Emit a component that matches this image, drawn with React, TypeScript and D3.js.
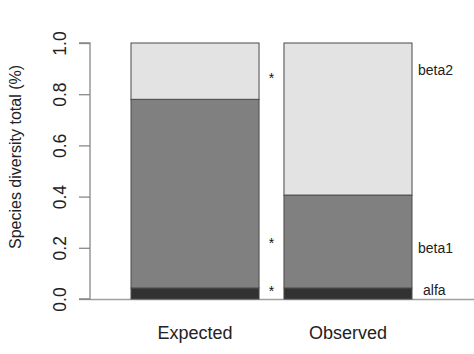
import { useEffect, useRef } from "react";
import * as d3 from "d3";

const groups = ["Expected", "Observed"];
const components = ["alfa", "beta1", "beta2"];
const alfa = [0.043, 0.043];
const beta1 = [0.737, 0.363];
const beta2 = [0.22, 0.594];
const yTicks = [0, 0.2, 0.4, 0.6, 0.8, 1.0];
// significance markers between the bars
const starValues = [0.043, 0.23, 0.875];
const labelValues = [0.035, 0.2, 0.895];

const FONT = "Liberation Sans, Arial, sans-serif";

const App = () => {
  const ref = useRef<SVGSVGElement | null>(null);

  useEffect(() => {
    if (!ref.current) return;
    const width = 474;
    const height = 354;
    const margin = { top: 43, bottom: 55, left: 90 };

    const svg = d3.select(ref.current);
    svg.selectAll("*").remove();

    const y = d3
      .scaleLinear()
      .domain([0, 1])
      .range([height - margin.bottom, margin.top]);

    const x = d3
      .scaleBand()
      .domain(groups)
      .range([131, 412])
      .paddingInner(0.163)
      .paddingOuter(0);

    const rows = groups.map((g, i) => ({
      group: g,
      alfa: alfa[i],
      beta1: beta1[i],
      beta2: beta2[i],
    }));
    const stack = d3.stack<any>().keys(components)(rows);
    const colors: Record<string, string> = {
      alfa: "#323232",
      beta1: "#808080",
      beta2: "#e3e3e3",
    };

    // bottom line
    svg
      .append("line")
      .attr("x1", margin.left)
      .attr("x2", width)
      .attr("y1", y(0) + 0.5)
      .attr("y2", y(0) + 0.5)
      .attr("stroke", "#a0a0a0")
      .attr("stroke-width", 1.5);

    stack.forEach((layer) => {
      svg
        .append("g")
        .selectAll("rect")
        .data(layer)
        .join("rect")
        .attr("x", (d) => x(d.data.group)!)
        .attr("y", (d) => y(d[1]))
        .attr("width", x.bandwidth())
        .attr("height", (d) => y(d[0]) - y(d[1]))
        .attr("fill", colors[layer.key])
        .attr("stroke", "#4a4a4a")
        .attr("stroke-width", 1);
    });

    // y axis
    const yAxis = svg
      .append("g")
      .attr("transform", `translate(${margin.left},0)`)
      .call(
        d3
          .axisLeft(y)
          .tickValues(yTicks)
          .tickSize(11)
          .tickFormat(d3.format(".1f"))
      );
    yAxis.selectAll("path, line").attr("stroke", "#888").attr("stroke-width", 1.3);
    yAxis.select(".domain").attr("d", `M-11,${y(0)}H0V${y(1)}H-11`);
    yAxis
      .selectAll("text")
      .attr("fill", "#222")
      .attr("font-size", 17.5)
      .attr("font-family", FONT)
      .attr("text-anchor", "middle")
      .attr("dy", null)
      .attr("x", null)
      .attr("transform", (d: any) => `translate(-24,0) rotate(-90)`)
      .attr("y", 0);

    svg
      .append("text")
      .attr("transform", `translate(21,157) rotate(-90)`)
      .attr("text-anchor", "middle")
      .attr("font-size", 16)
      .attr("font-family", FONT)
      .attr("fill", "#222")
      .text("Species diversity total (%)");

    // x labels
    svg
      .selectAll(".xl")
      .data(groups)
      .join("text")
      .attr("class", "xl")
      .attr("x", (d) => x(d)! + x.bandwidth() / 2)
      .attr("y", 339)
      .attr("text-anchor", "middle")
      .attr("font-size", 18)
      .attr("font-family", FONT)
      .attr("fill", "#222")
      .text((d) => d);

    // stars
    const starX = (x("Expected")! + x.bandwidth() + x("Observed")!) / 2;
    svg
      .selectAll(".star")
      .data(starValues)
      .join("text")
      .attr("class", "star")
      .attr("x", starX)
      .attr("y", (d) => y(d) + 8)
      .attr("text-anchor", "middle")
      .attr("font-size", 14)
      .attr("font-family", FONT)
      .attr("fill", "#111")
      .text("*");

    // component labels
    svg
      .selectAll(".cl")
      .data(labelValues)
      .join("text")
      .attr("class", "cl")
      .attr("x", (d, i) => (i === 0 ? 423 : 418))
      .attr("y", (d) => y(d))
      .attr("dy", "0.35em")
      .attr("font-size", 14)
      .attr("font-family", FONT)
      .attr("fill", "#222")
      .text((d, i) => components[i]);
  }, []);

  return (
    <svg
      ref={ref}
      width={474}
      height={354}
      style={{ position: "absolute", left: 0, top: 0, background: "#fff" }}
    ></svg>
  );
};

export default App;
